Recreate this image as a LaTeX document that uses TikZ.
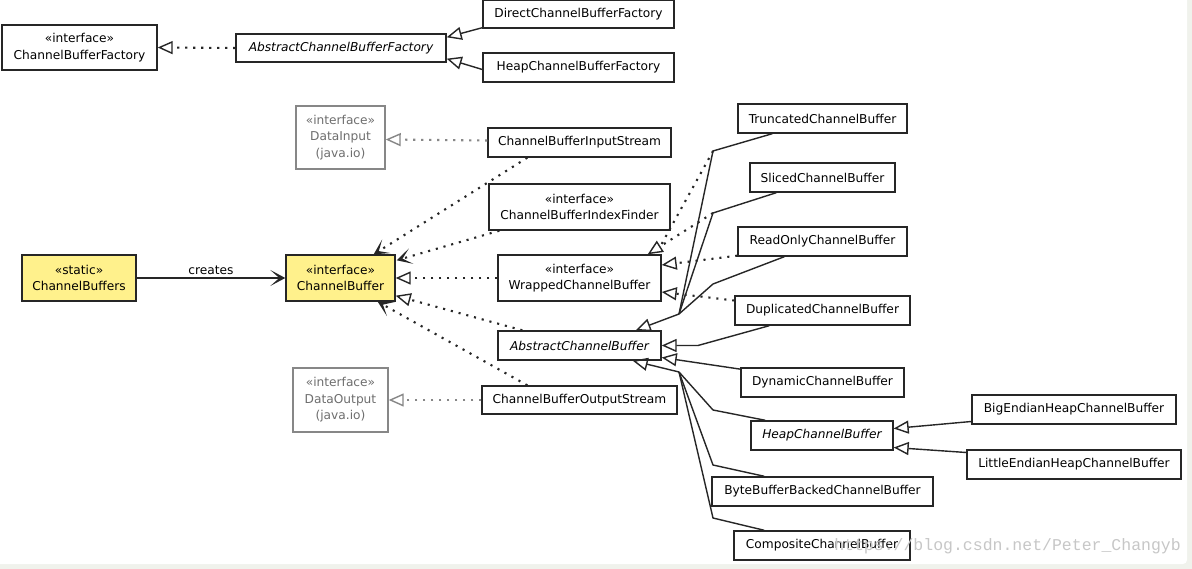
\documentclass[tikz,border=0pt]{standalone}
\usepackage{fontspec}
\setmainfont{DejaVu Sans}
\newfontfamily\wmfont{Liberation Mono}
\usetikzlibrary{arrows.meta,calc}
\definecolor{uyellow}{RGB}{255,241,140}
\definecolor{ugray}{RGB}{135,135,135}
\definecolor{ugtext}{RGB}{110,110,110}
\definecolor{uframe}{RGB}{240,242,236}
\begin{document}
\begin{tikzpicture}[x=1pt,y=-1pt,
  cls/.style={draw=black!85, line width=1.4pt, fill=white, inner sep=0pt, align=center,
    font=\fontsize{12.2}{16.5}\selectfont, text=black},
  ycls/.style={cls, fill=uyellow},
  gcls/.style={cls, draw=ugray, text=ugtext},
  conn/.style={line width=1.4pt, draw=black!85},
  tri/.style={-{Triangle[open,length=15pt,width=13pt,line width=1.4pt]}},
  gen/.style={conn, tri},
  dotl/.style={conn, line width=2.1pt, dash pattern=on 2.1pt off 5.9pt},
  real/.style={dotl, tri},
  greal/.style={real, draw=ugray},
  stick/.style={-{Stealth[length=15pt,width=16pt,inset=9pt,line width=1.3pt]}},
  dep/.style={dotl, stick},
  assoc/.style={conn, stick},
  lbl/.style={font=\fontsize{12.2}{14}\selectfont, text=black}
]
\useasboundingbox (0,0) rectangle (1192,569);
\fill[uframe] (0,0) rectangle (1192,569);
\fill[white, rounded corners=4pt] (-5,-5) rectangle (1187,564);

% top factory group
\node[cls, minimum width=155pt, minimum height=45pt] (cbf) at (79.5,47.5) {«interface»\\ChannelBufferFactory};
\node[cls, minimum width=210pt, minimum height=28pt] (acbf) at (341,48) {\itshape AbstractChannelBufferFactory};
\node[cls, minimum width=191pt, minimum height=28pt] (dcbf) at (578.5,14) {DirectChannelBufferFactory};
\node[cls, minimum width=191pt, minimum height=29pt] (hcbf) at (578.5,67.5) {HeapChannelBufferFactory};

% middle
\node[gcls, minimum width=89pt, minimum height=63pt] (din) at (340.5,137.5) {«interface»\\DataInput\\(java.io)};
\node[cls, minimum width=183pt, minimum height=29pt] (cbis) at (579.5,142.5) {ChannelBufferInputStream};
\node[cls, minimum width=181pt, minimum height=46pt] (cbif) at (579.5,207) {«interface»\\ChannelBufferIndexFinder};
\node[ycls, minimum width=114pt, minimum height=46pt] (cbs) at (79,278) {«static»\\ChannelBuffers};
\node[ycls, minimum width=109pt, minimum height=46pt] (cb) at (340.5,278) {«interface»\\ChannelBuffer};
\node[cls, minimum width=163pt, minimum height=46pt] (wcb) at (579.5,278) {«interface»\\WrappedChannelBuffer};
\node[cls, minimum width=163pt, minimum height=29pt] (acb) at (579.5,345.5) {\itshape AbstractChannelBuffer};
\node[gcls, minimum width=95pt, minimum height=64pt] (dout) at (340.5,400) {«interface»\\DataOutput\\(java.io)};
\node[cls, minimum width=195pt, minimum height=28pt] (cbos) at (579.5,400) {ChannelBufferOutputStream};

% right column
\node[cls, minimum width=169pt, minimum height=29pt] (trunc) at (822.5,118.5) {TruncatedChannelBuffer};
\node[cls, minimum width=145pt, minimum height=29pt] (sliced) at (822.5,177.5) {SlicedChannelBuffer};
\node[cls, minimum width=169pt, minimum height=29pt] (ro) at (822.5,241.5) {ReadOnlyChannelBuffer};
\node[cls, minimum width=175pt, minimum height=29pt] (dup) at (822.5,310.5) {DuplicatedChannelBuffer};
\node[cls, minimum width=163pt, minimum height=29pt] (dyn) at (822.5,382.5) {DynamicChannelBuffer};
\node[cls, minimum width=142pt, minimum height=29pt] (heap) at (822,435.5) {\itshape HeapChannelBuffer};
\node[cls, minimum width=221pt, minimum height=29pt] (bbb) at (822.5,491.5) {ByteBufferBackedChannelBuffer};
\node[cls, minimum width=176pt, minimum height=29pt] (comp) at (822,545.5) {CompositeChannelBuffer};
\node[cls, minimum width=204pt, minimum height=29pt] (big) at (1074,409.5) {BigEndianHeapChannelBuffer};
\node[cls, minimum width=214pt, minimum height=29pt] (little) at (1074,464.5) {LittleEndianHeapChannelBuffer};

% factory connectors
\draw[real] (acbf.west) -- (cbf.east);
\draw[gen] ($(dcbf.south west)+(0,-1)$) -- ($(acbf.north east)+(0,4)$);
\draw[gen] ($(hcbf.west)+(0,2)$) -- ($(acbf.south east)+(0,-4)$);

% ChannelBuffer connectors
\draw[greal] ($(cbis.west)+(0,-2)$) -- ($(din.east)+(0,2)$);
\draw[dep] ($(cbis.south west)+(40,0)$) -- ($(cb.north east)+(-22,0)$);
\draw[dep] ($(cbif.south west)+(11,0)$) -- ($(cb.north east)+(1,6)$);
\draw[real] (wcb.west) -- (cb.east);
\draw[real] ($(acb.north west)+(25,0)$) -- ($(cb.south east)+(0,-6)$);
\draw[dep] ($(cbos.north west)+(46,0)$) -- ($(cb.south east)+(-18,0)$);
\draw[greal] (cbos.west) -- (dout.east);
\draw[assoc] (cbs.east) -- node[lbl, above, yshift=-1pt] (creates) {creates} (cb.west);

% right cluster
\coordinate (T) at (713,151);
\coordinate (S) at (713,213);
\coordinate (R) at (713,284);
\coordinate (J1) at (679,314);
\coordinate (J2) at (679,372);
\coordinate (D) at (698,345.5);
\coordinate (H) at (713,410);
\coordinate (B) at (713,465);
\coordinate (C) at (713,518);
\coordinate (WT) at ($(wcb.north east)+(-14,0)$);

\draw[conn] ($(trunc.south west)+(35,0)$) -- (T) -- (J1);
\draw[conn] ($(sliced.south west)+(27,0)$) -- (S) -- (J1);
\draw[conn] ($(ro.south west)+(47,0)$) -- (R) -- (J1);
\draw[gen] (J1) -- ($(acb.north east)+(-26,0)$);

\draw[real] (S) -- (WT);
\draw[dotl] (T) -- ($(WT)!15pt!(S)$);
\draw[real] ($(ro.south west)+(0,-1)$) -- ($(wcb.east)+(0,-13)$);
\draw[real] ($(dup.west)+(0,-10)$) -- ($(wcb.east)+(0,14)$);

\draw[gen] ($(dup.south west)+(35,0)$) -- (D) -- (acb.east);
\draw[gen] ($(dyn.north west)+(1,2)$) -- ($(acb.east)+(0,12)$);
\draw[gen] (J2) -- ($(acb.south east)+(-29,0)$);
\draw[conn] ($(heap.north west)+(15,0)$) -- (H) -- (J2);
\draw[conn] ($(bbb.north west)+(53,0)$) -- (B) -- (J2);
\draw[conn] ($(comp.north west)+(31,0)$) -- (C) -- (J2);

\draw[gen] ($(big.west)+(0,12)$) -- ($(heap.east)+(0,-7)$);
\draw[gen] ($(little.west)+(0,-12)$) -- ($(heap.east)+(0,12)$);

% watermark
\node[anchor=east, text=black!22, font=\wmfont\fontsize{16.5}{18}\selectfont, inner sep=0pt] (wm) at (1181,546) {https://blog.csdn.net/Peter\_Changyb};
\end{tikzpicture}
\end{document}
